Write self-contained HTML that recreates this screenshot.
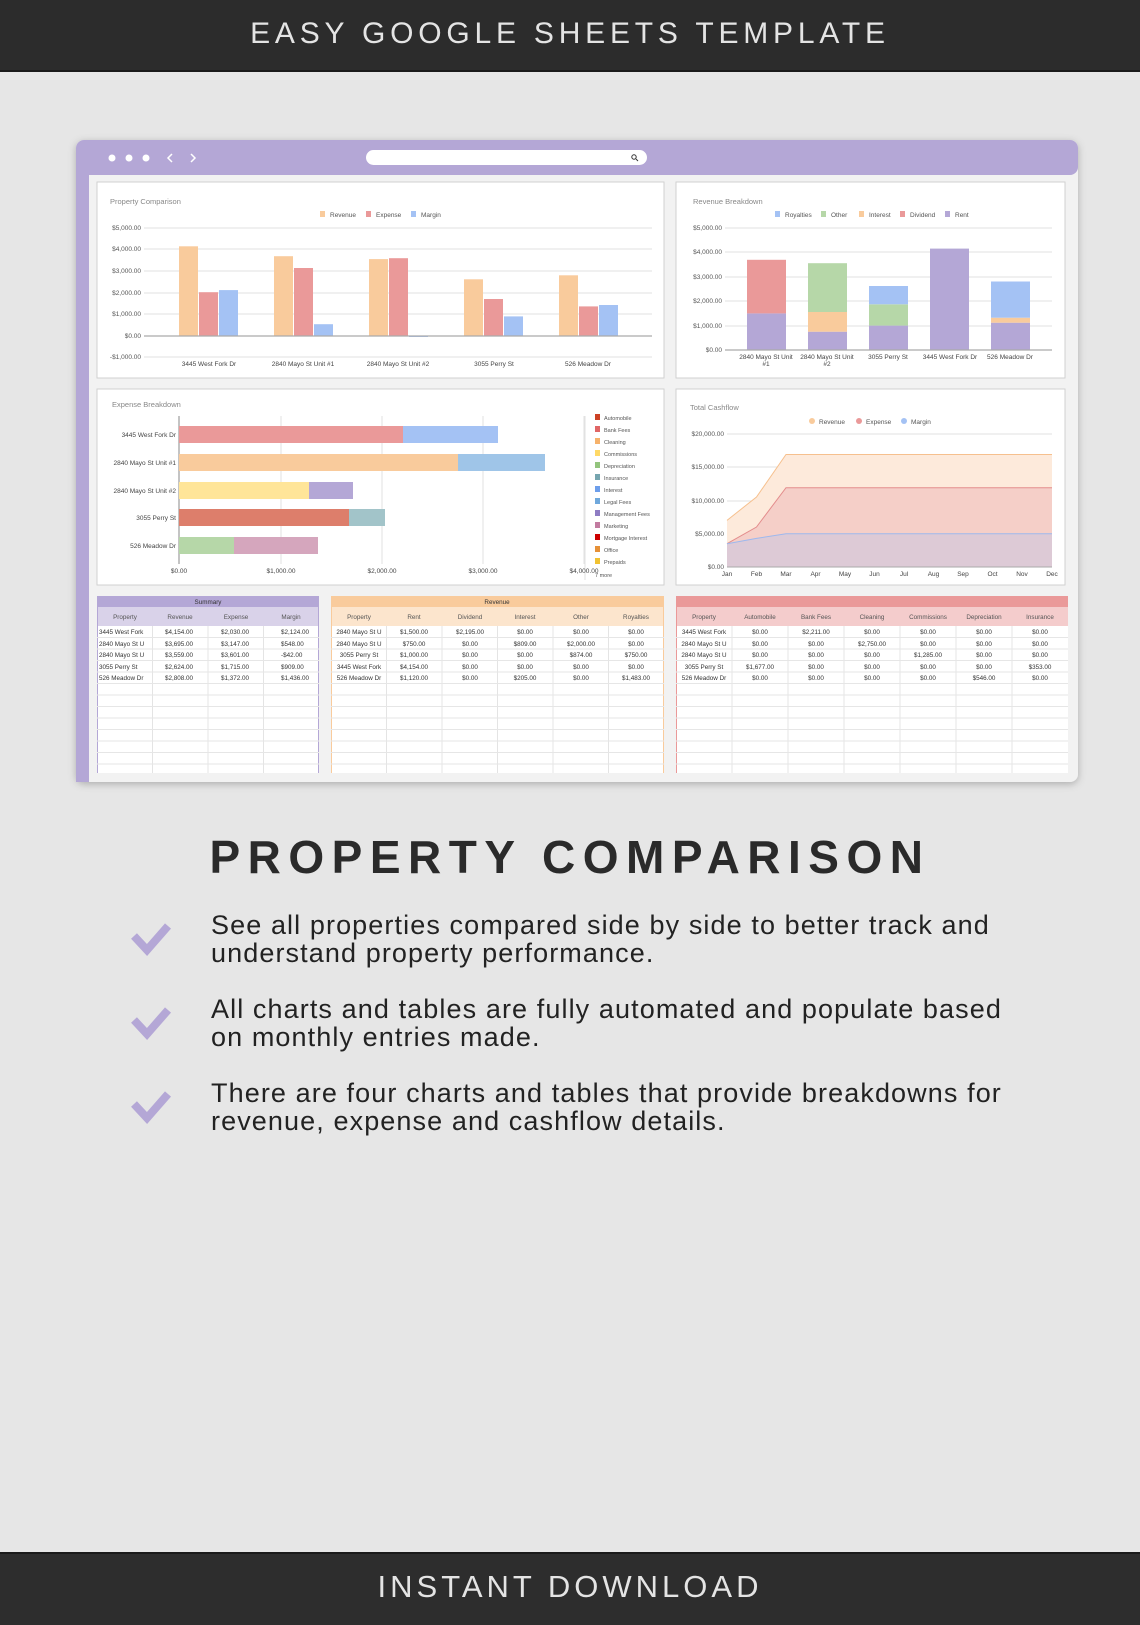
<!DOCTYPE html>
<html><head><meta charset="utf-8">
<style>
html,body{margin:0;padding:0}
body{width:1140px;height:1623px;background:#e6e6e6;position:relative;overflow:hidden;font-family:"Liberation Sans",sans-serif}
.top{position:absolute;left:0;top:0;width:1140px;height:70px;background:#2c2c2c;border-bottom:2px solid #1a1a1a;color:#e4e4e4;font-size:30px;letter-spacing:4.8px;text-align:center;line-height:68px}
.bot{position:absolute;left:0;top:1552px;width:1140px;height:71px;background:#2d2d2d;border-top:2px solid #1a1a1a;color:#e4e4e4;font-size:31px;letter-spacing:4px;text-align:center;line-height:66px}
h1{position:absolute;left:0;top:833px;width:1140px;margin:0;text-align:center;font-size:46px;font-weight:bold;letter-spacing:7.5px;color:#2a2a2a;line-height:48px}
.b{position:absolute;left:211px;font-size:27px;letter-spacing:1.1px;line-height:28px;color:#222;white-space:nowrap}
.chk{position:absolute;left:128px}
svg text{font-family:"Liberation Sans",sans-serif}
</style></head><body>
<div class="top">EASY GOOGLE SHEETS TEMPLATE</div>

<svg width="1140" height="800" style="position:absolute;left:0;top:0">
<defs><filter id="sh" x="-5%" y="-5%" width="110%" height="110%"><feDropShadow dx="0" dy="2" stdDeviation="4" flood-opacity="0.25"/></filter></defs>
<rect x="76" y="140" width="1002" height="642" rx="8" fill="#f2f2f2" filter="url(#sh)"/>
<rect x="76" y="140" width="1002" height="35" rx="8" fill="#b4a7d6"/>
<rect x="76" y="160" width="13" height="622" fill="#b4a7d6"/>
<circle cx="112" cy="158" r="3.5" fill="#fff"/><circle cx="129" cy="158" r="3.5" fill="#fff"/><circle cx="146" cy="158" r="3.5" fill="#fff"/>
<polyline points="172,154 168,158 172,162" fill="none" stroke="#fff" stroke-width="1.5"/>
<polyline points="191,154 195,158 191,162" fill="none" stroke="#fff" stroke-width="1.5"/>
<rect x="366" y="150" width="281" height="15" rx="7.5" fill="#fff"/>
<circle cx="634" cy="157" r="2.2" fill="none" stroke="#333" stroke-width="1"/><line x1="636" y1="159" x2="638" y2="161" stroke="#333"/>

<!-- Chart 1 -->
<rect x="97" y="182" width="567" height="196" fill="#fff" stroke="#d0d0d0"/>
<text x="110" y="204" font-size="7.5" fill="#888">Property Comparison</text>
<g font-size="6.5" fill="#555">
<rect x="320" y="211" width="5" height="6" fill="#f9cb9c"/><text x="330" y="217">Revenue</text>
<rect x="366" y="211" width="5" height="6" fill="#ea9999"/><text x="376" y="217">Expense</text>
<rect x="411" y="211" width="5" height="6" fill="#a4c2f4"/><text x="421" y="217">Margin</text>
</g>
<g stroke="#e2e2e2"><line x1="144" y1="228" x2="652" y2="228"/><line x1="144" y1="249" x2="652" y2="249"/><line x1="144" y1="271" x2="652" y2="271"/><line x1="144" y1="293" x2="652" y2="293"/><line x1="144" y1="314" x2="652" y2="314"/><line x1="144" y1="357" x2="652" y2="357"/></g>
<g font-size="6.5" fill="#555" text-anchor="end"><text x="141" y="230">$5,000.00</text><text x="141" y="251">$4,000.00</text><text x="141" y="273">$3,000.00</text><text x="141" y="295">$2,000.00</text><text x="141" y="316">$1,000.00</text><text x="141" y="338">$0.00</text><text x="141" y="359">-$1,000.00</text></g>
<g fill="#f9cb9c"><rect x="179" y="246.3" width="19" height="89.7"/><rect x="274" y="256.2" width="19" height="79.8"/><rect x="369" y="259.1" width="19" height="76.9"/><rect x="464" y="279.3" width="19" height="56.7"/><rect x="559" y="275.3" width="19" height="60.7"/></g>
<g fill="#ea9999"><rect x="199" y="292.2" width="19" height="43.8"/><rect x="294" y="268" width="19" height="68"/><rect x="389" y="258.2" width="19" height="77.8"/><rect x="484" y="299" width="19" height="37"/><rect x="579" y="306.4" width="19" height="29.6"/></g>
<g fill="#a4c2f4"><rect x="219" y="290.1" width="19" height="45.9"/><rect x="314" y="324.2" width="19" height="11.8"/><rect x="409" y="336" width="19" height="1"/><rect x="504" y="316.4" width="19" height="19.6"/><rect x="599" y="305" width="19" height="31"/></g>
<line x1="144" y1="336" x2="652" y2="336" stroke="#aaa" stroke-width="1.2"/>
<g font-size="6.5" fill="#444" text-anchor="middle"><text x="209" y="366">3445 West Fork Dr</text><text x="303" y="366">2840 Mayo St Unit #1</text><text x="398" y="366">2840 Mayo St Unit #2</text><text x="494" y="366">3055 Perry St</text><text x="588" y="366">526 Meadow Dr</text></g>

<!-- Chart 2 -->
<rect x="676" y="182" width="389" height="196" fill="#fff" stroke="#d0d0d0"/>
<text x="693" y="204" font-size="7.5" fill="#888">Revenue Breakdown</text>
<g font-size="6.5" fill="#555">
<rect x="775" y="211" width="5" height="6" fill="#a4c2f4"/><text x="785" y="217">Royalties</text>
<rect x="821" y="211" width="5" height="6" fill="#b6d7a8"/><text x="831" y="217">Other</text>
<rect x="859" y="211" width="5" height="6" fill="#f9cb9c"/><text x="869" y="217">Interest</text>
<rect x="900" y="211" width="5" height="6" fill="#ea9999"/><text x="910" y="217">Dividend</text>
<rect x="945" y="211" width="5" height="6" fill="#b4a7d6"/><text x="955" y="217">Rent</text>
</g>
<g stroke="#e2e2e2"><line x1="725" y1="228" x2="1052" y2="228"/><line x1="725" y1="252" x2="1052" y2="252"/><line x1="725" y1="277" x2="1052" y2="277"/><line x1="725" y1="301" x2="1052" y2="301"/><line x1="725" y1="326" x2="1052" y2="326"/></g>
<g font-size="6.5" fill="#555" text-anchor="end"><text x="722" y="230">$5,000.00</text><text x="722" y="254">$4,000.00</text><text x="722" y="279">$3,000.00</text><text x="722" y="303">$2,000.00</text><text x="722" y="328">$1,000.00</text><text x="722" y="352">$0.00</text></g>
<rect x="747" y="313.4" width="39" height="36.6" fill="#b4a7d6"/><rect x="747" y="259.8" width="39" height="53.6" fill="#ea9999"/>
<rect x="808" y="331.7" width="39" height="18.3" fill="#b4a7d6"/><rect x="808" y="312" width="39" height="19.7" fill="#f9cb9c"/><rect x="808" y="263.2" width="39" height="48.8" fill="#b6d7a8"/>
<rect x="869" y="325.6" width="39" height="24.4" fill="#b4a7d6"/><rect x="869" y="304.3" width="39" height="21.3" fill="#b6d7a8"/><rect x="869" y="286" width="39" height="18.3" fill="#a4c2f4"/>
<rect x="930" y="248.6" width="39" height="101.4" fill="#b4a7d6"/>
<rect x="991" y="322.7" width="39" height="27.3" fill="#b4a7d6"/><rect x="991" y="317.7" width="39" height="5" fill="#f9cb9c"/><rect x="991" y="281.5" width="39" height="36.2" fill="#a4c2f4"/>
<line x1="725" y1="350" x2="1052" y2="350" stroke="#aaa" stroke-width="1.2"/>
<g font-size="6.5" fill="#444" text-anchor="middle"><text x="766" y="359">2840 Mayo St Unit</text><text x="766" y="366">#1</text><text x="827" y="359">2840 Mayo St Unit</text><text x="827" y="366">#2</text><text x="888" y="359">3055 Perry St</text><text x="950" y="359">3445 West Fork Dr</text><text x="1010" y="359">526 Meadow Dr</text></g>

<!-- Chart 3 -->
<rect x="97" y="389" width="567" height="196" fill="#fff" stroke="#d0d0d0"/>
<text x="112" y="407" font-size="7.5" fill="#888">Expense Breakdown</text>
<g stroke="#e2e2e2"><line x1="281" y1="416" x2="281" y2="564"/><line x1="382" y1="416" x2="382" y2="564"/><line x1="483" y1="416" x2="483" y2="564"/><line x1="584" y1="416" x2="584" y2="564"/><line x1="585" y1="416" x2="585" y2="580"/></g>
<line x1="179" y1="416" x2="179" y2="564" stroke="#888"/>
<rect x="179" y="426" width="224" height="17" fill="#ea9999"/><rect x="403" y="426" width="95" height="17" fill="#a4c2f4"/>
<rect x="179" y="454" width="279" height="17" fill="#f9cb9c"/><rect x="458" y="454" width="87" height="17" fill="#9fc5e8"/>
<rect x="179" y="482" width="130" height="17" fill="#ffe599"/><rect x="309" y="482" width="44" height="17" fill="#b4a7d6"/>
<rect x="179" y="509" width="170" height="17" fill="#dd7e6b"/><rect x="349" y="509" width="36" height="17" fill="#a2c4c9"/>
<rect x="179" y="537" width="55" height="17" fill="#b6d7a8"/><rect x="234" y="537" width="84" height="17" fill="#d5a6bd"/>
<g font-size="6.5" fill="#444" text-anchor="end"><text x="176" y="437">3445 West Fork Dr</text><text x="176" y="465">2840 Mayo St Unit #1</text><text x="176" y="493">2840 Mayo St Unit #2</text><text x="176" y="520">3055 Perry St</text><text x="176" y="548">526 Meadow Dr</text></g>
<g font-size="6.5" fill="#444" text-anchor="middle"><text x="179" y="573">$0.00</text><text x="281" y="573">$1,000.00</text><text x="382" y="573">$2,000.00</text><text x="483" y="573">$3,000.00</text><text x="584" y="573">$4,000.00</text></g>
<g font-size="5.5" fill="#555">
<rect x="595" y="414" width="5" height="6" fill="#cc4125"/><text x="604" y="420">Automobile</text>
<rect x="595" y="426" width="5" height="6" fill="#e06666"/><text x="604" y="432">Bank Fees</text>
<rect x="595" y="438" width="5" height="6" fill="#f6b26b"/><text x="604" y="444">Cleaning</text>
<rect x="595" y="450" width="5" height="6" fill="#ffd966"/><text x="604" y="456">Commissions</text>
<rect x="595" y="462" width="5" height="6" fill="#93c47d"/><text x="604" y="468">Depreciation</text>
<rect x="595" y="474" width="5" height="6" fill="#76a5af"/><text x="604" y="480">Insurance</text>
<rect x="595" y="486" width="5" height="6" fill="#6d9eeb"/><text x="604" y="492">Interest</text>
<rect x="595" y="498" width="5" height="6" fill="#6fa8dc"/><text x="604" y="504">Legal Fees</text>
<rect x="595" y="510" width="5" height="6" fill="#8e7cc3"/><text x="604" y="516">Management Fees</text>
<rect x="595" y="522" width="5" height="6" fill="#c27ba0"/><text x="604" y="528">Marketing</text>
<rect x="595" y="534" width="5" height="6" fill="#cc0000"/><text x="604" y="540">Mortgage Interest</text>
<rect x="595" y="546" width="5" height="6" fill="#e69138"/><text x="604" y="552">Office</text>
<rect x="595" y="558" width="5" height="6" fill="#f1c232"/><text x="604" y="564">Prepaids</text>
<text x="595" y="577">7 more</text></g>

<!-- Chart 4 -->
<rect x="676" y="389" width="389" height="196" fill="#fff" stroke="#d0d0d0"/>
<text x="690" y="410" font-size="7.5" fill="#888">Total Cashflow</text>
<g font-size="6.5" fill="#555">
<circle cx="812" cy="421" r="3" fill="#f9cb9c"/><text x="819" y="424">Revenue</text>
<circle cx="859" cy="421" r="3" fill="#ea9999"/><text x="866" y="424">Expense</text>
<circle cx="904" cy="421" r="3" fill="#a4c2f4"/><text x="911" y="424">Margin</text>
</g>
<g stroke="#e2e2e2"><line x1="727" y1="434" x2="1052" y2="434"/><line x1="727" y1="467" x2="1052" y2="467"/><line x1="727" y1="501" x2="1052" y2="501"/><line x1="727" y1="534" x2="1052" y2="534"/></g>
<g font-size="6.5" fill="#555" text-anchor="end"><text x="724" y="436">$20,000.00</text><text x="724" y="469">$15,000.00</text><text x="724" y="503">$10,000.00</text><text x="724" y="536">$5,000.00</text><text x="724" y="569">$0.00</text></g>
<polygon points="727,520.4 756.5,497 786,454.5 1052,454.5 1052,567 727,567" fill="#fdeadb"/>
<polyline points="727,520.4 756.5,497 786,454.5 1052,454.5" fill="none" stroke="#f6c08e" stroke-width="1"/>
<polygon points="727,543.7 756.5,527 786,487.7 1052,487.7 1052,567 727,567" fill="#f5cfc8"/>
<polyline points="727,543.7 756.5,527 786,487.7 1052,487.7" fill="none" stroke="#e38c8c" stroke-width="1"/>
<polygon points="727,543.7 756.5,538.4 786,533.7 1052,533.7 1052,567 727,567" fill="#ddcad6"/>
<polyline points="727,543.7 756.5,538.4 786,533.7 1052,533.7" fill="none" stroke="#9db8ee" stroke-width="1"/>
<line x1="727" y1="567" x2="1052" y2="567" stroke="#aaa"/>
<g font-size="6.5" fill="#444" text-anchor="middle"><text x="727" y="576">Jan</text><text x="756.5" y="576">Feb</text><text x="786" y="576">Mar</text><text x="815.5" y="576">Apr</text><text x="845" y="576">May</text><text x="874.5" y="576">Jun</text><text x="904" y="576">Jul</text><text x="933.5" y="576">Aug</text><text x="963" y="576">Sep</text><text x="992.5" y="576">Oct</text><text x="1022" y="576">Nov</text><text x="1052" y="576">Dec</text></g>

<!-- Tables -->
<g font-size="6.3" fill="#333">
<rect x="97" y="596" width="222" height="177" fill="#fff"/>
<rect x="97" y="596" width="222" height="11" fill="#b4a7d6"/><text x="208" y="604" text-anchor="middle">Summary</text>
<rect x="97" y="607" width="222" height="19" fill="#d9d2e9"/>
<g fill="#555" text-anchor="middle"><text x="125" y="619">Property</text><text x="180" y="619">Revenue</text><text x="236" y="619">Expense</text><text x="291" y="619">Margin</text></g>
<g stroke="#e4e4e4"><line x1="152.5" y1="626" x2="152.5" y2="773"/><line x1="208" y1="626" x2="208" y2="773"/><line x1="263.5" y1="626" x2="263.5" y2="773"/></g>
<line x1="97.5" y1="596" x2="97.5" y2="773" stroke="#b4a7d6"/><line x1="318.5" y1="596" x2="318.5" y2="773" stroke="#b4a7d6"/>
<text x="99" y="634">3445 West Fork</text><text x="165" y="634">$4,154.00</text><text x="221" y="634">$2,030.00</text><text x="281" y="634">$2,124.00</text>
<text x="99" y="646">2840 Mayo St U</text><text x="165" y="646">$3,695.00</text><text x="221" y="646">$3,147.00</text><text x="281" y="646">$548.00</text>
<text x="99" y="657">2840 Mayo St U</text><text x="165" y="657">$3,559.00</text><text x="221" y="657">$3,601.00</text><text x="281" y="657">-$42.00</text>
<text x="99" y="669">3055 Perry St</text><text x="165" y="669">$2,624.00</text><text x="221" y="669">$1,715.00</text><text x="281" y="669">$909.00</text>
<text x="99" y="680">526 Meadow Dr</text><text x="165" y="680">$2,808.00</text><text x="221" y="680">$1,372.00</text><text x="281" y="680">$1,436.00</text>
<rect x="331" y="596" width="333" height="177" fill="#fff"/>
<rect x="331" y="596" width="333" height="11" fill="#f9cb9c"/><text x="497" y="604" text-anchor="middle">Revenue</text>
<rect x="331" y="607" width="333" height="19" fill="#fce5cd"/>
<g fill="#555" text-anchor="middle"><text x="359" y="619">Property</text><text x="414" y="619">Rent</text><text x="470" y="619">Dividend</text><text x="525" y="619">Interest</text><text x="581" y="619">Other</text><text x="636" y="619">Royalties</text></g>
<g stroke="#e4e4e4"><line x1="386.5" y1="626" x2="386.5" y2="773"/><line x1="442" y1="626" x2="442" y2="773"/><line x1="497.5" y1="626" x2="497.5" y2="773"/><line x1="553" y1="626" x2="553" y2="773"/><line x1="608.5" y1="626" x2="608.5" y2="773"/></g>
<line x1="331.5" y1="596" x2="331.5" y2="773" stroke="#f9cb9c"/><line x1="663.5" y1="596" x2="663.5" y2="773" stroke="#f9cb9c"/>
<g text-anchor="middle">
<text x="359" y="634">2840 Mayo St U</text><text x="414" y="634">$1,500.00</text><text x="470" y="634">$2,195.00</text><text x="525" y="634">$0.00</text><text x="581" y="634">$0.00</text><text x="636" y="634">$0.00</text>
<text x="359" y="646">2840 Mayo St U</text><text x="414" y="646">$750.00</text><text x="470" y="646">$0.00</text><text x="525" y="646">$809.00</text><text x="581" y="646">$2,000.00</text><text x="636" y="646">$0.00</text>
<text x="359" y="657">3055 Perry St</text><text x="414" y="657">$1,000.00</text><text x="470" y="657">$0.00</text><text x="525" y="657">$0.00</text><text x="581" y="657">$874.00</text><text x="636" y="657">$750.00</text>
<text x="359" y="669">3445 West Fork</text><text x="414" y="669">$4,154.00</text><text x="470" y="669">$0.00</text><text x="525" y="669">$0.00</text><text x="581" y="669">$0.00</text><text x="636" y="669">$0.00</text>
<text x="359" y="680">526 Meadow Dr</text><text x="414" y="680">$1,120.00</text><text x="470" y="680">$0.00</text><text x="525" y="680">$205.00</text><text x="581" y="680">$0.00</text><text x="636" y="680">$1,483.00</text>
</g>
<rect x="676" y="596" width="392" height="177" fill="#fff"/>
<rect x="676" y="596" width="392" height="11" fill="#ea9999"/>
<rect x="676" y="607" width="392" height="19" fill="#f4cccc"/>
<g fill="#555" text-anchor="middle"><text x="704" y="619">Property</text><text x="760" y="619">Automobile</text><text x="816" y="619">Bank Fees</text><text x="872" y="619">Cleaning</text><text x="928" y="619">Commissions</text><text x="984" y="619">Depreciation</text><text x="1040" y="619">Insurance</text></g>
<g stroke="#e4e4e4"><line x1="732" y1="626" x2="732" y2="773"/><line x1="788" y1="626" x2="788" y2="773"/><line x1="844" y1="626" x2="844" y2="773"/><line x1="900" y1="626" x2="900" y2="773"/><line x1="956" y1="626" x2="956" y2="773"/><line x1="1012" y1="626" x2="1012" y2="773"/></g>
<line x1="676.5" y1="596" x2="676.5" y2="773" stroke="#ea9999"/>
<g text-anchor="middle">
<text x="704" y="634">3445 West Fork</text><text x="760" y="634">$0.00</text><text x="816" y="634">$2,211.00</text><text x="872" y="634">$0.00</text><text x="928" y="634">$0.00</text><text x="984" y="634">$0.00</text><text x="1040" y="634">$0.00</text>
<text x="704" y="646">2840 Mayo St U</text><text x="760" y="646">$0.00</text><text x="816" y="646">$0.00</text><text x="872" y="646">$2,750.00</text><text x="928" y="646">$0.00</text><text x="984" y="646">$0.00</text><text x="1040" y="646">$0.00</text>
<text x="704" y="657">2840 Mayo St U</text><text x="760" y="657">$0.00</text><text x="816" y="657">$0.00</text><text x="872" y="657">$0.00</text><text x="928" y="657">$1,285.00</text><text x="984" y="657">$0.00</text><text x="1040" y="657">$0.00</text>
<text x="704" y="669">3055 Perry St</text><text x="760" y="669">$1,677.00</text><text x="816" y="669">$0.00</text><text x="872" y="669">$0.00</text><text x="928" y="669">$0.00</text><text x="984" y="669">$0.00</text><text x="1040" y="669">$353.00</text>
<text x="704" y="680">526 Meadow Dr</text><text x="760" y="680">$0.00</text><text x="816" y="680">$0.00</text><text x="872" y="680">$0.00</text><text x="928" y="680">$0.00</text><text x="984" y="680">$546.00</text><text x="1040" y="680">$0.00</text>
</g>
<g stroke="#e6e6e6">
<line x1="97" y1="637.5" x2="319" y2="637.5"/><line x1="331" y1="637.5" x2="664" y2="637.5"/><line x1="676" y1="637.5" x2="1068" y2="637.5"/>
<line x1="97" y1="649" x2="319" y2="649"/><line x1="331" y1="649" x2="664" y2="649"/><line x1="676" y1="649" x2="1068" y2="649"/>
<line x1="97" y1="660.5" x2="319" y2="660.5"/><line x1="331" y1="660.5" x2="664" y2="660.5"/><line x1="676" y1="660.5" x2="1068" y2="660.5"/>
<line x1="97" y1="672" x2="319" y2="672"/><line x1="331" y1="672" x2="664" y2="672"/><line x1="676" y1="672" x2="1068" y2="672"/>
<line x1="97" y1="683.5" x2="319" y2="683.5"/><line x1="331" y1="683.5" x2="664" y2="683.5"/><line x1="676" y1="683.5" x2="1068" y2="683.5"/>
<line x1="97" y1="695" x2="319" y2="695"/><line x1="331" y1="695" x2="664" y2="695"/><line x1="676" y1="695" x2="1068" y2="695"/>
<line x1="97" y1="706.5" x2="319" y2="706.5"/><line x1="331" y1="706.5" x2="664" y2="706.5"/><line x1="676" y1="706.5" x2="1068" y2="706.5"/>
<line x1="97" y1="718" x2="319" y2="718"/><line x1="331" y1="718" x2="664" y2="718"/><line x1="676" y1="718" x2="1068" y2="718"/>
<line x1="97" y1="729.5" x2="319" y2="729.5"/><line x1="331" y1="729.5" x2="664" y2="729.5"/><line x1="676" y1="729.5" x2="1068" y2="729.5"/>
<line x1="97" y1="741" x2="319" y2="741"/><line x1="331" y1="741" x2="664" y2="741"/><line x1="676" y1="741" x2="1068" y2="741"/>
<line x1="97" y1="752.5" x2="319" y2="752.5"/><line x1="331" y1="752.5" x2="664" y2="752.5"/><line x1="676" y1="752.5" x2="1068" y2="752.5"/>
<line x1="97" y1="764" x2="319" y2="764"/><line x1="331" y1="764" x2="664" y2="764"/><line x1="676" y1="764" x2="1068" y2="764"/>
</g>
</g>
</svg>

<h1>PROPERTY COMPARISON</h1>

<svg class="chk" style="top:920px" width="46" height="40"><polyline points="6,16 19,30 40,6" fill="none" stroke="#b4a7d6" stroke-width="8" stroke-linejoin="miter"/></svg>
<div class="b" style="top:911px">See all properties compared side by side to better track and<br>understand property performance.</div>
<svg class="chk" style="top:1004px" width="46" height="40"><polyline points="6,16 19,30 40,6" fill="none" stroke="#b4a7d6" stroke-width="8" stroke-linejoin="miter"/></svg>
<div class="b" style="top:995px">All charts and tables are fully automated and populate based<br>on monthly entries made.</div>
<svg class="chk" style="top:1088px" width="46" height="40"><polyline points="6,16 19,30 40,6" fill="none" stroke="#b4a7d6" stroke-width="8" stroke-linejoin="miter"/></svg>
<div class="b" style="top:1079px">There are four charts and tables that provide breakdowns for<br>revenue, expense and cashflow details.</div>

<div class="bot">INSTANT DOWNLOAD</div>
</body></html>
